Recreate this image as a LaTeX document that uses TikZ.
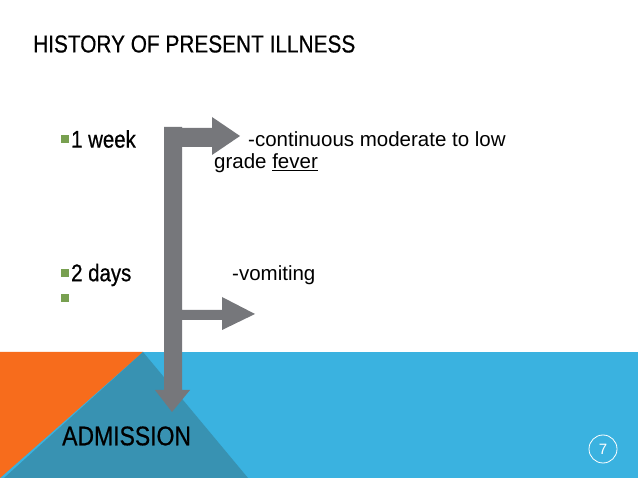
\documentclass[tikz,border=0pt]{standalone}
\usepackage{fontspec}
\setmainfont{Liberation Sans}
\usetikzlibrary{shapes.geometric}
\definecolor{myblue}{RGB}{58,178,224}
\definecolor{myorange}{RGB}{247,108,28}
\definecolor{myteal}{RGB}{56,146,178}
\definecolor{mygray}{RGB}{118,119,123}
\definecolor{mygreen}{RGB}{120,160,80}
\tikzset{
 bul/.style={fill=mygreen,minimum size=8pt,inner sep=0pt},
 lbl/.style={anchor=west,inner sep=0pt,font=\fontsize{24}{26}\selectfont\addfontfeatures{FakeStretch=0.85,FakeBold=0.6}},
 txt/.style={anchor=west,inner sep=0pt,font=\fontsize{20.5}{22}\selectfont},
 arr/.style={fill=mygray}
}
\begin{document}
\begin{tikzpicture}[x=1pt,y=-1pt]
\useasboundingbox (0,0) rectangle (638,478);
\fill[white] (0,0) rectangle (638,478);
\fill[myblue] (0,352) rectangle (638,478);
\fill[myorange] (0,352) -- (143,352) -- (0,478) -- cycle;
\fill[myteal] (143,352) -- (248,478) -- (4,478) -- cycle;
\node[anchor=west,inner sep=0pt,font=\fontsize{24.5}{26}\selectfont\addfontfeatures{FakeStretch=0.85,FakeBold=0.5}] (title) at (33,44) {HISTORY OF PRESENT ILLNESS};
\node[bul] (b1) at (65,139) {};
\node[lbl] (l1) at (71,139) {1 week};
\node[bul] (b2) at (65,273) {};
\node[lbl] (l2) at (71,275) {2 days};
\node[bul] (b3) at (65,298) {};
\node[txt] (t1) at (248,139) {-continuous moderate to low};
\node[txt] (t2) at (214,163) {grade \underline{fever}};
\node[txt] (t3) at (232,275) {-vomiting};
\fill[arr] (164,127) -- (182,127) -- (182,128) -- (212,128) -- (212,117) -- (240,136) -- (212,155) -- (212,147) -- (182,147)
 -- (182,310) -- (222,310) -- (222,297) -- (255,314) -- (222,330) -- (222,320) -- (182,320)
 -- (182,390) -- (190,390) -- (172,412) -- (155,390) -- (164,390) -- cycle;
\node[anchor=west,inner sep=0pt,font=\fontsize{27}{29}\selectfont\addfontfeatures{FakeStretch=0.85,FakeBold=0.6}] (adm) at (62,436) {ADMISSION};
\node[circle,draw=white,line width=0.8pt,minimum size=28pt,inner sep=0pt,text=white,font=\fontsize{15}{17}\selectfont] (num) at (603,449) {7};
\end{tikzpicture}
\end{document}
